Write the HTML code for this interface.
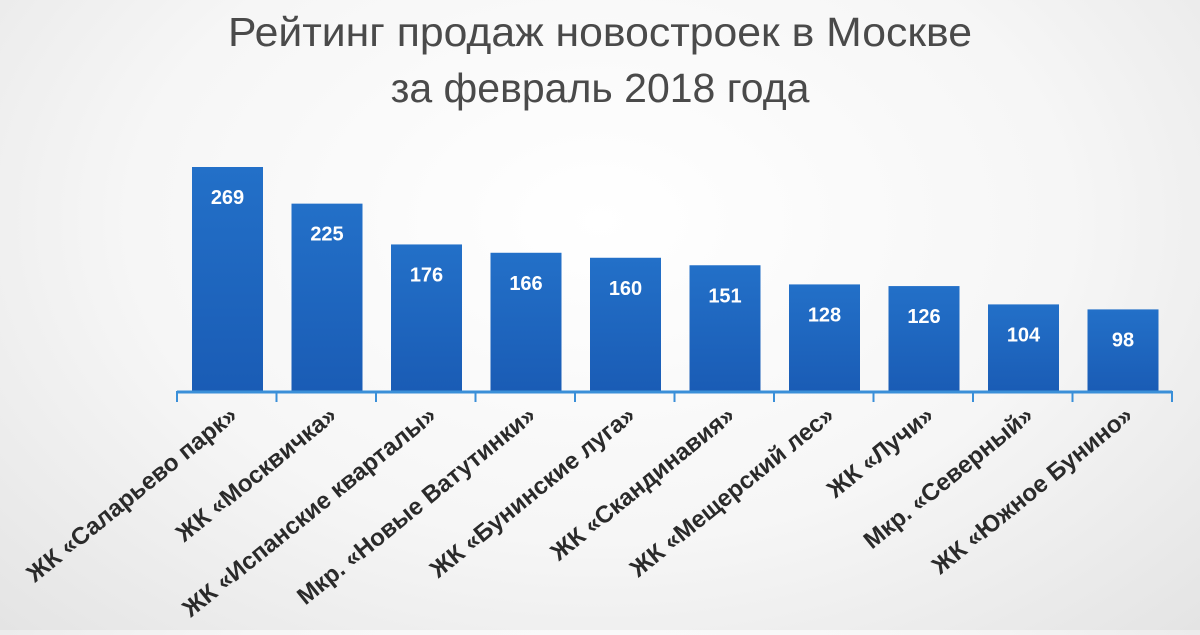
<!DOCTYPE html>
<html><head><meta charset="utf-8">
<style>
html,body{margin:0;padding:0;}
body{width:1200px;height:630px;overflow:hidden;background:radial-gradient(ellipse at 50% 35%,#ffffff 0%,#f6f6f6 55%,#e4e4e4 100%);font-family:"Liberation Sans",sans-serif;}
</style></head>
<body>
<svg width="1200" height="630">
<defs>
<linearGradient id="bg" x1="0" y1="0" x2="0" y2="1">
<stop offset="0" stop-color="#2370c8"/><stop offset="1" stop-color="#1a5cb5"/>
</linearGradient>
</defs>
<text x="600" y="46" text-anchor="middle" font-size="41" fill="#4a4a4a" textLength="744" lengthAdjust="spacingAndGlyphs">Рейтинг продаж новостроек в Москве</text>
<text x="600" y="102" text-anchor="middle" font-size="41" fill="#4a4a4a">за февраль 2018 года</text>
<g id="plot"></g>
</svg>
<script>
const categories=["ЖК «Саларьево парк»","ЖК «Москвичка»","ЖК «Испанские кварталы»","Мкр. «Новые Ватутинки»","ЖК «Бунинские луга»","ЖК «Скандинавия»","ЖК «Мещерский лес»","ЖК «Лучи»","Мкр. «Северный»","ЖК «Южное Бунино»"];
const values=[269,225,176,166,160,151,128,126,104,98];
const NS="http://www.w3.org/2000/svg";
const g=document.getElementById('plot');
const x0=177,x1=1172,baseY=391,scale=224/269;
const step=(x1-x0)/categories.length;
function xPos(i){return x0+i*step;}
function yPos(v){return baseY-v*scale;}
function mk(t,a){const e=document.createElementNS(NS,t);for(const k in a)e.setAttribute(k,a[k]);g.appendChild(e);return e;}
values.forEach((v,i)=>{
  const bx=xPos(i)+15,bw=71;
  const r=mk('rect',{x:bx,y:yPos(v),width:bw,height:baseY-yPos(v),fill:'url(#bg)'});
  
  
  const t=mk('text',{x:bx+bw/2,y:yPos(v)+37,'text-anchor':'middle','font-size':'20','font-weight':'bold',fill:'#ffffff'});
  t.textContent=v;
  
  
  const cx=xPos(i)+step/2+12;
  const l=mk('text',{x:cx,y:418,'text-anchor':'end','font-size':'24','font-weight':'bold',fill:'#2a2a2a',transform:'rotate(-39 '+cx+' 418)'});
  l.textContent=categories[i];
  
  
});
const ax=mk('line',{x1:x0,y1:baseY+1,x2:x1,y2:baseY+1,stroke:'#3a8fd8','stroke-width':3});


for(let i=0;i<=categories.length;i++){
  const tk=mk('line',{x1:xPos(i),y1:baseY,x2:xPos(i),y2:baseY+11,stroke:'#3a8fd8','stroke-width':2});
  
  
}
</script>
</body></html>
